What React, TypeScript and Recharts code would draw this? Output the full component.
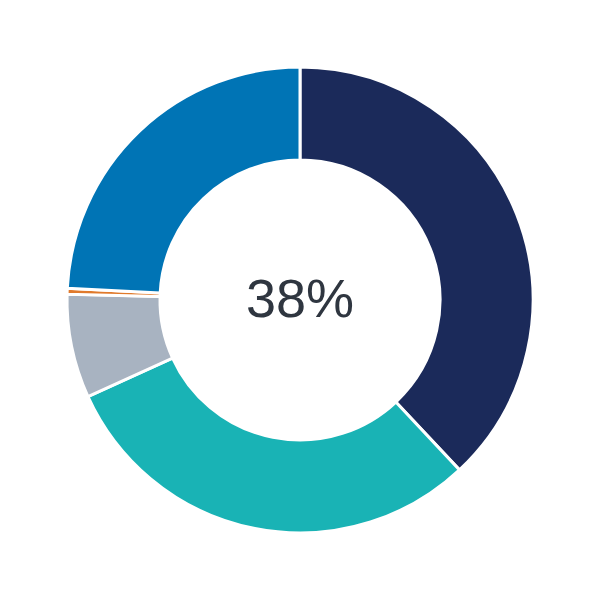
import { PieChart, Pie, Cell } from "recharts";

const categories = ["Navy", "Teal", "Gray", "Orange", "Blue"];
const shares = [38, 30.2, 7.2, 0.4, 24.2];
const colors = ["#1b2a5a", "#19b3b5", "#a8b3c1", "#e07a2c", "#0074b5"];
const centerLabel = "38%";

const data = categories.map((name, i) => ({ name, value: shares[i] }));

export default function App() {
  return (
    <div style={{ width: 600, height: 600, margin: -8, position: "relative" }}>
      <PieChart width={600} height={600} margin={{ top: 0, right: 0, bottom: 0, left: 0 }}>
        <Pie
          data={data}
          dataKey="value"
          nameKey="name"
          cx={300}
          cy={300}
          innerRadius={140}
          outerRadius={233}
          startAngle={90}
          endAngle={-270}
          stroke="#ffffff"
          strokeWidth={3}
          isAnimationActive={false}
        >
          {data.map((d, i) => (
            <Cell key={d.name} fill={colors[i]} />
          ))}
        </Pie>
        <text
          x={300}
          y={298}
          textAnchor="middle"
          dominantBaseline="central"
          fontFamily="'Liberation Sans', Arial, sans-serif"
          fontSize={54}
          fill="#2f3640"
        >
          {centerLabel}
        </text>
      </PieChart>
    </div>
  );
}
